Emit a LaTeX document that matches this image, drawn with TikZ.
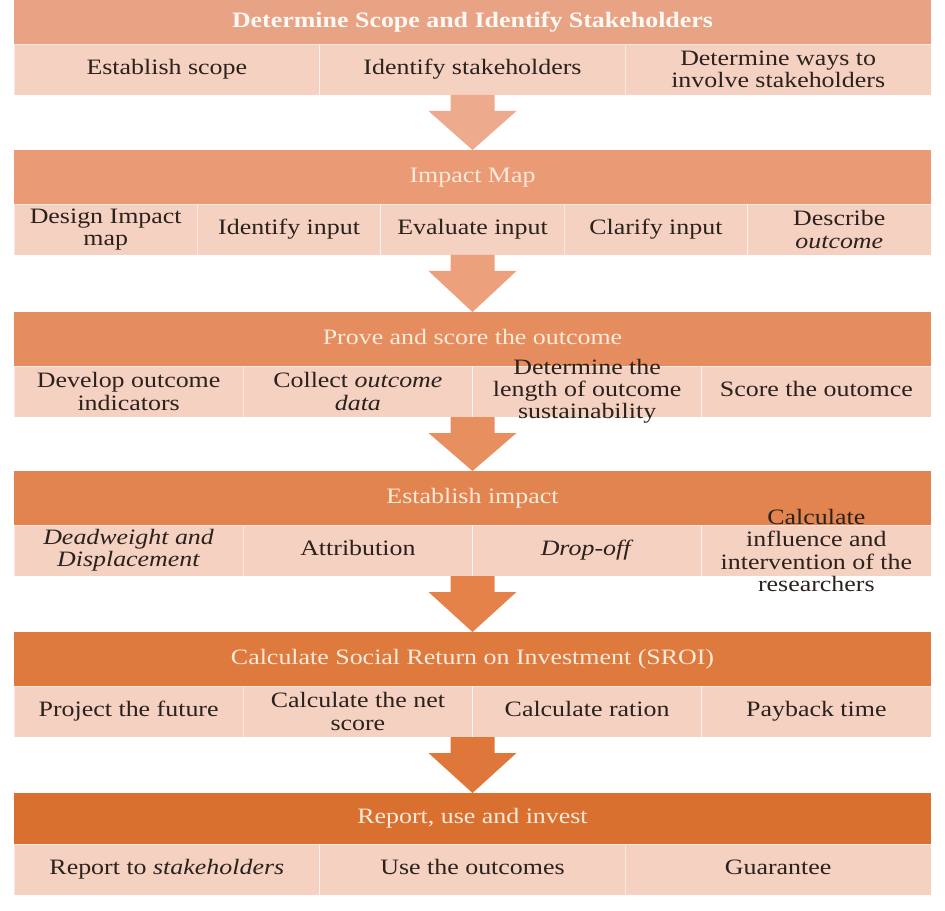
\documentclass[tikz,border=0pt]{standalone}
\usepackage{fontspec}
\setmainfont{Liberation Serif}[FakeStretch=1.18]
\usepackage{tikz}
\usetikzlibrary{positioning,calc}
\definecolor{headA}{HTML}{E8A385}
\definecolor{headB}{HTML}{EA9B76}
\definecolor{headC}{HTML}{E58D5E}
\definecolor{headD}{HTML}{E2844F}
\definecolor{headE}{HTML}{DE7A3D}
\definecolor{headF}{HTML}{D9702F}
\definecolor{arrA}{HTML}{EEAA8D}
\definecolor{arrB}{HTML}{ECA07C}
\definecolor{arrC}{HTML}{E88F60}
\definecolor{arrD}{HTML}{E4824A}
\definecolor{arrE}{HTML}{E0773A}
\definecolor{cellfill}{HTML}{F5D1C1}
\definecolor{inktext}{HTML}{2B211D}
\definecolor{headtext}{HTML}{FCEADB}
\newcommand{\flowsize}{\fontsize{12.5pt}{12.6pt}\selectfont}
\newcommand{\flowarrow}[3]{%
    \fill[#1] ($(#2)+(-0.44,0)$) -- ($(#2)+(0.44,0)$) -- ($(#2)+(0.44,-0.32)$)
        -- ($(#2)+(0.88,-0.32)$) -- (#3) -- ($(#2)+(-0.88,-0.32)$)
        -- ($(#2)+(-0.44,-0.32)$) -- cycle;}
\tikzset{
    every node/.style={font=\flowsize},
    oneline/.style={text height=8.6pt,text depth=2.8pt},
    head/.style={rectangle,fill=#1,text=headtext,oneline,minimum width=18.34cm,minimum height=1.08cm,inner sep=0pt,outer sep=0pt,anchor=north},
    cell/.style={rectangle,fill=cellfill,draw=white,draw opacity=0.5,line width=0.4pt,text=inktext,align=center,minimum height=1.02cm,inner sep=0pt,outer sep=0pt},
    cellthree/.style={cell,minimum width=6.1133cm},
    cellfour/.style={cell,minimum width=4.585cm},
    cellfive/.style={cell,minimum width=3.668cm},
    celltext/.style={text=inktext,align=center}
}
\begin{document}
\begin{tikzpicture}
\useasboundingbox (0,0) rectangle (18.9,-18.22);
% scope and stakeholders
\node[head=headA,minimum height=0.88cm,font=\flowsize\bfseries,text=white!70!headtext] (h1) at (9.45,0) {Determine Scope and Identify Stakeholders};
\node[cellthree,oneline,anchor=north west] (c11) at (h1.south west) {Establish scope};
\node[cellthree,oneline,right=0pt of c11] (c12) {Identify stakeholders};
\node[cellthree,right=0pt of c12] (c13) {Determine ways to\\involve stakeholders};
% impact map
\node[head=headB] (h2) at (9.45,-3.0) {Impact Map};
\node[cellfive,anchor=north west] (c21) at (h2.south west) {Design Impact\\map};
\node[cellfive,oneline,right=0pt of c21] (c22) {Identify input};
\node[cellfive,oneline,right=0pt of c22] (c23) {Evaluate input};
\node[cellfive,oneline,right=0pt of c23] (c24) {Clarify input};
\node[cellfive,right=0pt of c24] (c25) {Describe\\\textit{outcome}};
% outcome
\node[head=headC] (h3) at (9.45,-6.24) {Prove and score the outcome};
\node[cellfour,anchor=north west] (c31) at (h3.south west) {Develop outcome\\indicators};
\node[cellfour,right=0pt of c31] (c32) {Collect \textit{outcome}\\\textit{data}};
\node[cellfour,right=0pt of c32,label={[celltext]center:{Determine the\\length of outcome\\sustainability}}] (c33) {};
\node[cellfour,oneline,right=0pt of c33] (c34) {Score the outomce};
% impact
\node[head=headD] (h4) at (9.45,-9.42) {Establish impact};
\node[cellfour,anchor=north west] (c41) at (h4.south west) {\textit{Deadweight and}\\\textit{Displacement}};
\node[cellfour,oneline,right=0pt of c41] (c42) {Attribution};
\node[cellfour,oneline,right=0pt of c42] (c43) {\textit{Drop-off}};
\node[cellfour,right=0pt of c43,label={[celltext]center:{Calculate\\influence and\\intervention of the\\researchers}}] (c44) {};
% sroi
\node[head=headE] (h5) at (9.45,-12.64) {Calculate Social Return on Investment (SROI)};
\node[cellfour,oneline,anchor=north west] (c51) at (h5.south west) {Project the future};
\node[cellfour,right=0pt of c51] (c52) {Calculate the net\\score};
\node[cellfour,oneline,right=0pt of c52] (c53) {Calculate ration};
\node[cellfour,oneline,right=0pt of c53] (c54) {Payback time};
% report
\node[head=headF,minimum height=1.02cm] (h6) at (9.45,-15.86) {Report, use and invest};
\node[cellthree,oneline,anchor=north west] (c61) at (h6.south west) {Report to \textit{stakeholders}};
\node[cellthree,oneline,right=0pt of c61] (c62) {Use the outcomes};
\node[cellthree,oneline,right=0pt of c62] (c63) {Guarantee};
% arrows between the steps
\flowarrow{arrA}{c12.south}{h2.north}
\flowarrow{arrB}{c23.south}{h3.north}
\flowarrow{arrC}{c32.south east}{h4.north}
\flowarrow{arrD}{c42.south east}{h5.north}
\flowarrow{arrE}{c52.south east}{h6.north}
\end{tikzpicture}
\end{document}
